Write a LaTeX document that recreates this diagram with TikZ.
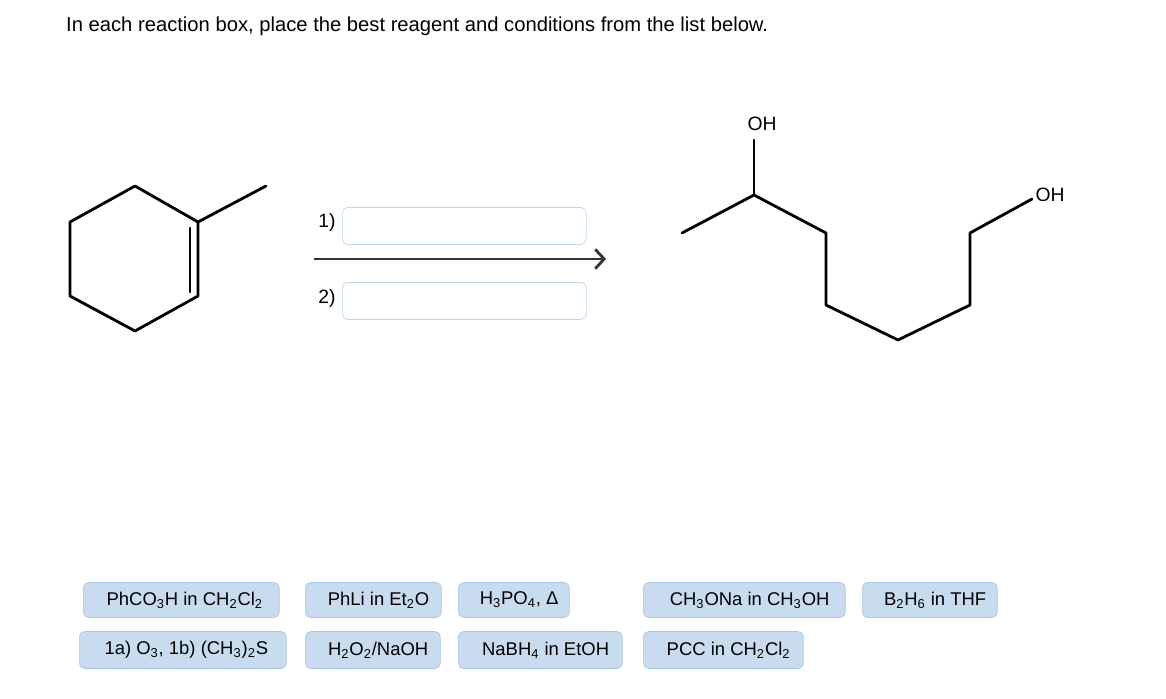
\documentclass[tikz,border=0pt]{standalone}
\usepackage{fontspec}
\setmainfont{Liberation Sans}
\usetikzlibrary{arrows.meta}
\definecolor{chipfill}{HTML}{C9DCEF}
\definecolor{chipdraw}{HTML}{A9C8E6}
\definecolor{boxdraw}{HTML}{BCD6EE}
\tikzset{
  bond/.style={line width=1.6pt,line cap=round,line join=round},
  chip/.style={draw=chipdraw,fill=chipfill,rounded corners=3pt,inner sep=0pt,anchor=west,font=\fontsize{10.5}{12}\selectfont},
  ansbox/.style={draw=boxdraw,rounded corners=3pt,minimum width=4.88cm,minimum height=0.74cm,anchor=west},
}
\begin{document}
\begin{tikzpicture}[x=0.02cm,y=-0.02cm]
\useasboundingbox (0,0) rectangle (1166,699);
\node[anchor=west,font=\fontsize{11.5}{14}\selectfont] (title) at (60,26) {In each reaction box, place the best reagent and conditions from the list below.};
% cyclohexene
\draw[bond] (198,222)--(135,186)--(70,222)--(70,296)--(135,331)--(198,296)--cycle;
\draw[bond] (190,228)--(190,292);
\draw[bond] (198,222)--(266,186);
% arrow and boxes
\coordinate (a1) at (314,259);
\coordinate (a2) at (606,259);
\draw[line width=1.6pt,draw=black!80,-{Straight Barb[length=5pt,width=11pt]}] (a1)--(a2);
\node[font=\fontsize{11}{13}\selectfont] (l1) at (327,222) {1)};
\node[ansbox] (b1) at (342,226) {};
\node[font=\fontsize{11}{13}\selectfont] (l2) at (327,298) {2)};
\node[ansbox] (b2) at (342,301) {};
% product
\draw[bond] (682,233)--(754,195)--(826,233)--(826,305)--(898,340)--(970,305)--(970,233)--(1032,199);
\draw[bond] (754,195)--(754,140);
\node[font=\fontsize{11}{13}\selectfont] (oh1) at (762,124) {OH};
\node[font=\fontsize{11}{13}\selectfont] (oh2) at (1050,195) {OH};
% reagent list
\node[chip,minimum width=3.92cm,minimum height=0.7cm] (c1) at (83,600) {\hspace{4pt}PhCO\textsubscript{3}H in CH\textsubscript{2}Cl\textsubscript{2}};
\node[chip,minimum width=2.72cm,minimum height=0.7cm] (c2) at (305,600) {\hspace{6pt}PhLi in Et\textsubscript{2}O};
\node[chip,minimum width=2.22cm,minimum height=0.7cm] (c3) at (458,600) {\hspace{6pt}H\textsubscript{3}PO\textsubscript{4}, Δ};
\node[chip,minimum width=4.04cm,minimum height=0.7cm] (c4) at (643,600) {\hspace{6pt}CH\textsubscript{3}ONa in CH\textsubscript{3}OH};
\node[chip,minimum width=2.7cm,minimum height=0.7cm] (c5) at (862,600) {\hspace{6pt}B\textsubscript{2}H\textsubscript{6} in THF};
\node[chip,minimum width=4.14cm,minimum height=0.74cm] (c6) at (79,650) {\hspace{4pt}1a) O\textsubscript{3}, 1b) (CH\textsubscript{3})\textsubscript{2}S};
\node[chip,minimum width=2.7cm,minimum height=0.74cm] (c7) at (305,650) {\hspace{6pt}H\textsubscript{2}O\textsubscript{2}/NaOH};
\node[chip,minimum width=3.28cm,minimum height=0.74cm] (c8) at (458,650) {\hspace{6pt}NaBH\textsubscript{4} in EtOH};
\node[chip,minimum width=3.2cm,minimum height=0.74cm] (c9) at (643,650) {\hspace{6pt}PCC in CH\textsubscript{2}Cl\textsubscript{2}};
\end{tikzpicture}
\end{document}
